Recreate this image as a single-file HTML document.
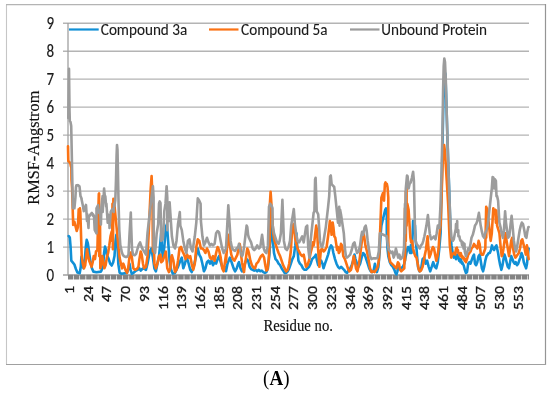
<!DOCTYPE html><html><head><meta charset="utf-8"><style>html,body{margin:0;padding:0;background:#fff;}svg{display:block}</style></head><body>
<svg width="550" height="394" viewBox="0 0 550 394">
<rect x="0" y="0" width="550" height="394" fill="#fff"/>
<path d="M6.5 364 V4.6" fill="none" stroke="#c6c6c6" stroke-width="1.1"/>
<path d="M6 4.6 H545" fill="none" stroke="#b4b4b4" stroke-width="1.3"/>
<path d="M545.5 4.0 V365" fill="none" stroke="#959595" stroke-width="1.2"/>
<path d="M546 364.5 H6" fill="none" stroke="#a0a0a0" stroke-width="1.2"/>
<path d="M63 247.03 H529 M63 219.06 H529 M63 191.09 H529 M63 163.12 H529 M63 135.15 H529 M63 107.18 H529 M63 79.21 H529 M63 51.24 H529 M63 23.27 H529" stroke="#b4b4b4" stroke-width="1.3" fill="none"/>
<path d="M68 23 V275.5 M63 275 H529" stroke="#a0a0a0" stroke-width="1.3" fill="none"/>
<path d="M68 277.1 H529" stroke="#838383" stroke-width="4.8" stroke-dasharray="5.437 0.7" stroke-dashoffset="0.227" fill="none"/>
<g fill="none" stroke-width="2.6" stroke-linejoin="round" stroke-linecap="round">
<polyline stroke="#1190d6" points="68.7,236.0 69.8,237.5 70.6,247.0 71.3,260.7 72.9,262.6 74.4,264.5 75.9,269.0 77.4,272.6 79.7,273.2 80.8,266.8 81.4,256.9 82.5,262.2 83.5,268.3 84.6,262.2 85.8,247.0 86.7,239.8 87.8,243.1 88.9,250.8 90.4,261.4 91.9,268.3 93.4,271.6 96.5,272.2 101.0,271.6 103.0,266.8 104.1,253.0 105.0,246.6 106.1,250.0 107.1,255.3 108.7,259.1 110.2,263.7 111.7,265.5 113.2,262.2 114.5,256.1 115.5,240.9 116.4,234.8 117.4,240.9 118.3,263.7 119.6,272.6 121.6,273.8 124.7,273.2 127.0,272.9 128.5,268.3 129.5,263.7 130.6,269.8 131.8,273.8 133.8,272.6 136.1,270.6 137.6,269.8 139.1,268.0 140.7,270.6 142.2,269.0 143.7,268.3 146.0,269.8 147.5,263.7 149.8,251.5 151.3,248.5 152.9,257.6 154.4,268.3 155.9,271.3 157.4,263.7 159.0,256.1 160.5,240.9 161.2,233.2 162.0,248.5 162.8,257.6 164.3,247.0 165.8,227.1 166.9,224.1 168.1,240.9 169.6,260.7 171.1,269.8 172.7,273.6 175.0,272.9 176.5,269.8 178.0,266.8 180.3,260.7 181.8,257.6 183.3,268.3 184.9,263.7 186.4,257.6 187.9,260.7 190.2,269.8 191.7,272.1 193.2,268.3 194.8,262.2 196.3,254.6 197.8,248.5 199.3,254.6 200.9,257.6 202.4,263.7 203.9,271.3 205.4,268.3 207.0,262.2 208.5,260.7 210.0,263.7 211.5,260.7 213.0,265.2 214.6,262.2 216.1,263.7 217.6,259.1 219.1,256.1 220.7,262.2 222.2,266.8 223.7,268.3 226.0,266.8 226.0,271.3 227.5,263.7 229.8,257.6 231.3,261.4 232.1,263.7 233.6,268.3 235.1,271.3 236.7,268.3 238.2,263.7 239.0,262.2 240.5,268.3 242.0,271.3 243.5,268.3 245.0,263.7 246.6,259.1 248.1,260.7 249.6,266.8 251.1,269.0 252.7,269.8 254.2,270.6 255.7,269.8 257.2,271.3 258.8,269.8 260.3,271.3 261.8,270.6 263.3,272.1 264.9,272.9 266.4,272.1 267.9,268.3 269.4,254.6 270.5,237.8 271.7,214.4 272.9,240.9 274.0,253.0 275.5,259.1 277.0,260.7 278.6,263.7 280.1,265.2 281.6,268.3 283.1,270.6 284.7,272.9 286.2,272.9 287.7,271.3 289.2,268.3 290.8,263.7 292.3,259.1 293.8,256.1 295.3,245.4 296.4,233.2 297.3,247.0 298.4,260.7 299.9,263.7 301.4,265.2 303.0,268.3 304.5,269.8 306.0,269.8 307.5,268.3 309.0,266.8 310.6,263.7 312.1,259.1 313.6,257.6 315.1,256.1 315.9,254.6 317.0,260.7 318.2,265.2 319.7,263.7 321.2,260.7 322.5,263.7 323.5,268.3 325.0,263.7 326.6,259.1 328.1,254.6 329.6,248.5 331.1,245.4 332.2,247.0 333.4,253.0 335.0,259.1 336.5,263.7 338.0,266.8 339.5,268.3 341.0,266.8 342.6,268.3 344.1,269.8 345.6,272.1 347.1,272.9 348.7,269.8 350.2,268.3 351.7,265.2 353.2,260.7 354.5,254.6 355.5,259.1 357.0,263.7 358.6,266.8 360.1,263.7 361.6,257.6 363.1,253.0 364.7,254.6 366.2,259.1 367.7,263.7 369.2,268.3 370.8,271.3 372.3,272.1 373.8,269.8 374.9,263.7 375.8,268.3 376.9,272.1 378.4,266.8 379.9,248.5 380.7,233.2 381.4,225.6 385.2,209.8 386.0,208.3 386.8,209.8 386.8,233.2 387.5,248.5 388.3,256.1 389.8,262.2 391.3,265.2 392.9,266.8 394.4,269.8 395.4,272.9 396.4,274.4 397.4,271.3 398.5,266.8 399.7,268.3 401.2,268.3 402.8,266.8 404.3,263.7 405.8,256.1 407.0,250.0 408.1,247.0 409.2,250.0 410.1,253.0 410.8,245.4 411.6,253.0 412.7,233.2 413.1,221.0 415.0,225.6 415.7,240.9 416.5,248.5 417.2,257.6 418.0,266.8 419.5,271.3 421.0,269.8 422.6,259.1 424.1,257.6 425.6,263.7 427.1,260.7 428.7,266.8 430.2,271.3 431.7,266.8 433.2,262.2 434.8,266.8 436.3,268.3 437.8,262.2 439.3,248.5 440.6,233.0 441.8,180.0 442.8,130.0 443.8,85.0 444.6,72.0 445.4,74.0 446.3,100.0 447.3,135.0 448.3,165.0 449.2,190.0 450.0,215.0 450.8,238.0 451.5,245.4 452.7,253.0 453.8,257.6 454.9,254.6 456.0,259.1 456.1,259.1 457.2,254.6 457.6,257.6 458.3,256.1 459.1,260.7 459.4,259.1 460.6,262.2 460.7,259.1 462.1,263.7 462.2,262.2 463.6,265.2 463.7,265.2 464.8,269.8 464.9,269.8 465.9,272.9 467.0,272.1 468.2,263.7 469.4,262.2 470.5,263.7 472.0,259.1 473.1,256.1 474.0,254.6 475.0,263.7 476.1,265.2 477.3,262.2 478.6,256.1 479.6,254.6 480.7,260.7 481.9,268.3 483.1,271.3 484.2,266.8 485.3,260.7 486.5,256.1 487.7,254.6 488.8,253.0 489.8,253.0 491.0,250.0 492.0,245.4 492.9,248.5 494.1,250.0 495.3,247.0 496.4,245.4 497.1,248.5 498.1,253.0 499.0,259.1 500.2,265.2 501.4,269.8 502.5,265.2 503.5,259.1 504.5,254.6 505.5,257.6 506.6,262.2 507.8,266.8 509.0,268.3 510.1,262.2 511.2,256.1 512.4,259.1 513.6,262.2 514.7,263.7 515.7,262.2 517.0,265.2 518.2,263.7 519.2,260.7 520.3,257.6 521.5,253.0 522.7,256.1 523.8,262.2 524.9,265.2 526.1,268.3 527.0,263.7 527.9,254.6 528.7,248.5"/>
<polyline stroke="#fb7214" points="68.0,146.4 68.3,161.0 68.9,161.5 69.8,162.6 70.3,163.3 71.0,166.8 71.3,164.1 71.5,180.0 72.1,188.5 72.9,215.9 73.2,224.9 74.4,221.8 75.4,225.6 76.7,231.0 77.9,227.1 78.7,209.4 79.0,221.0 79.4,210.6 79.9,208.3 80.3,211.3 81.7,256.1 82.8,263.7 84.0,268.3 85.2,265.2 86.3,256.1 87.0,249.2 88.1,256.1 89.2,260.7 90.4,263.7 91.6,266.8 92.7,262.2 93.7,256.1 95.0,259.1 96.0,251.5 97.4,250.1 98.2,215.6 98.8,193.8 99.1,193.3 99.2,256.1 100.0,215.6 100.3,268.3 101.4,263.7 102.3,256.1 103.3,262.2 104.4,268.3 105.6,265.2 106.8,257.6 108.1,253.0 109.3,245.4 110.5,236.3 111.7,231.7 112.2,240.9 112.5,203.7 112.9,249.2 113.4,198.8 113.9,199.6 114.3,203.7 118.6,248.5 119.6,257.6 120.9,263.7 122.1,268.3 123.3,263.7 124.5,266.8 125.7,270.6 127.0,272.9 128.2,268.3 129.2,259.1 130.2,253.0 131.2,252.3 132.3,260.7 133.4,268.3 134.9,269.8 136.9,269.0 138.4,266.8 139.4,259.1 140.7,251.5 141.7,254.6 143.0,263.7 144.0,268.3 146.0,266.8 147.5,256.1 148.7,233.2 149.8,208.3 150.7,188.5 151.6,176.0 152.4,196.1 152.9,251.5 153.0,215.9 154.4,263.7 155.9,268.3 157.4,263.7 159.0,256.1 160.5,254.6 161.2,262.2 162.8,260.7 164.3,256.1 165.8,251.5 167.3,268.3 168.9,272.1 170.4,268.3 171.1,257.6 171.9,255.3 173.4,260.7 175.0,272.1 176.5,269.8 178.0,260.7 179.5,248.5 181.0,247.0 182.6,251.5 184.1,254.6 185.6,259.1 187.1,254.6 188.7,257.6 190.2,256.1 191.7,263.7 193.2,269.8 194.8,263.7 196.3,247.0 197.8,239.3 199.3,240.9 200.9,248.5 202.4,248.5 203.9,250.0 205.4,253.0 207.0,248.5 208.5,251.5 210.0,257.6 211.5,259.1 213.0,256.1 214.6,260.7 216.1,253.0 217.6,247.0 219.1,250.0 220.7,257.6 222.2,268.3 223.7,271.3 226.0,254.6 226.0,262.2 227.5,240.9 228.3,234.8 229.0,237.8 229.8,245.4 231.3,254.6 232.9,259.1 234.4,260.7 235.9,257.6 237.4,254.6 238.5,248.5 239.7,243.9 240.5,248.5 241.2,256.1 242.0,262.2 242.8,266.8 244.0,272.1 245.0,263.7 245.8,259.1 246.6,253.0 247.3,248.5 248.1,250.0 248.9,253.0 250.4,260.7 251.9,265.2 253.4,267.5 255.0,268.3 256.5,263.7 258.0,262.2 259.5,259.1 261.0,256.1 262.6,254.6 264.1,257.6 265.3,265.2 266.4,270.6 267.4,269.8 268.7,259.1 269.7,240.9 269.9,203.7 270.6,191.8 271.4,203.7 273.2,233.2 274.5,240.9 275.5,243.9 277.0,248.5 278.6,253.0 280.1,256.1 281.6,260.7 283.1,265.2 284.7,268.3 286.2,271.3 287.7,269.8 289.2,263.7 290.8,251.5 291.8,234.8 292.7,227.1 293.5,224.1 294.3,230.2 295.3,239.3 296.4,243.9 297.6,248.5 299.1,251.5 300.7,254.6 302.2,256.1 303.7,254.6 306.0,266.8 307.5,265.2 309.0,260.7 310.6,253.0 311.8,248.5 312.9,242.4 313.6,245.4 314.4,240.9 315.1,234.8 316.2,225.6 317.0,230.2 317.9,245.4 318.6,256.1 319.4,266.8 320.2,257.6 320.9,250.0 322.0,248.5 323.5,251.5 325.0,250.0 326.6,247.0 328.1,236.3 329.2,227.1 329.9,221.0 330.7,225.6 331.6,234.8 332.7,222.6 333.4,227.1 334.3,236.3 335.3,237.8 336.2,243.9 337.1,250.0 338.0,247.0 338.8,253.0 339.8,251.5 341.0,243.9 342.1,245.4 343.3,256.1 344.9,259.1 346.4,263.7 347.9,268.3 349.4,271.3 351.0,269.8 352.5,263.7 353.7,256.1 354.8,260.7 356.0,268.3 357.5,271.3 359.0,263.7 360.6,251.5 362.1,239.3 363.1,232.5 364.2,236.3 365.4,245.4 367.0,251.5 368.5,259.1 370.0,268.3 371.5,272.1 373.0,271.3 374.6,272.1 376.1,269.8 377.6,266.8 378.8,260.7 379.8,240.9 381.4,197.6 383.0,193.0 384.0,200.7 384.9,183.9 385.5,182.4 386.0,183.9 386.8,183.9 387.5,187.0 388.3,197.6 388.3,240.9 389.0,256.1 390.3,262.2 391.8,263.7 393.3,265.2 394.8,266.8 396.4,268.3 397.9,262.2 399.0,263.7 400.0,269.8 401.2,271.3 402.8,269.8 404.3,268.3 405.0,208.3 405.0,260.7 405.8,191.5 405.8,240.9 406.6,185.4 406.6,225.6 407.3,203.7 408.6,209.8 409.6,225.6 410.4,237.8 411.1,242.4 412.2,240.9 413.1,248.5 414.2,253.0 415.3,256.1 416.5,257.6 417.7,263.7 418.8,269.8 419.8,271.3 421.0,270.6 422.6,266.8 423.8,260.7 424.9,254.6 425.9,250.0 426.8,242.4 427.6,236.3 428.4,248.5 429.4,257.6 430.5,254.6 431.7,250.0 432.9,247.0 434.0,248.5 435.1,254.6 436.3,260.7 437.5,256.1 438.6,248.5 439.6,233.2 440.6,225.0 441.6,195.0 442.6,165.0 443.5,148.0 444.1,145.0 444.8,150.0 445.8,165.0 447.0,185.0 448.2,205.0 449.0,225.0 449.8,245.0 451.2,257.6 452.3,254.6 453.8,253.0 455.3,254.6 456.0,248.5 456.9,247.7 457.2,250.0 457.9,250.0 458.3,253.0 459.1,253.0 459.4,254.6 460.6,256.1 460.7,253.0 462.1,257.6 462.2,256.1 463.6,259.1 463.7,257.6 464.8,260.7 465.2,259.1 465.9,262.2 467.0,259.1 468.2,254.6 469.4,253.0 470.5,251.5 471.5,248.5 472.8,247.0 474.0,243.9 475.0,245.4 476.1,247.0 477.3,248.5 478.6,240.9 479.6,243.9 480.7,253.0 481.9,254.6 483.1,254.6 484.2,251.5 485.3,248.5 486.2,206.8 486.2,237.8 487.2,208.3 489.8,233.2 490.7,240.9 491.8,233.2 493.3,208.3 494.1,212.9 495.3,209.8 495.9,222.6 496.4,210.6 497.1,225.6 499.4,233.2 500.5,245.4 501.7,256.1 502.5,254.6 503.5,248.5 504.5,240.9 505.5,233.2 506.6,240.9 507.8,248.5 509.0,256.1 510.1,248.5 511.2,240.9 512.1,237.8 513.1,248.5 514.2,254.6 515.4,257.6 516.6,256.1 517.7,254.6 518.8,253.0 520.0,248.5 521.2,240.9 522.3,239.3 523.4,243.9 524.6,248.5 525.8,254.6 526.9,245.4 527.9,253.0 528.7,259.1"/>
<polyline stroke="#9c9c9c" points="68.3,118.0 69.0,68.7 69.5,110.0 69.8,121.0 70.5,122.0 71.2,126.0 71.7,150.0 72.1,170.0 72.4,185.0 72.9,208.3 74.4,208.3 75.4,197.6 76.0,187.1 76.4,185.4 77.8,185.3 77.9,185.1 79.4,186.2 79.6,187.1 80.5,196.1 81.3,197.8 81.5,199.1 82.8,205.2 83.8,211.3 84.0,206.7 84.9,206.8 85.8,205.8 86.0,204.9 87.0,220.9 87.3,214.4 88.5,228.0 88.9,216.7 89.9,215.6 90.4,214.4 91.1,213.8 91.9,212.9 92.9,215.6 93.1,214.4 94.0,215.9 94.7,229.8 96.5,233.4 96.5,208.3 98.0,205.2 98.2,206.7 98.9,212.9 99.1,212.0 100.1,210.6 100.9,224.5 101.4,206.8 102.6,196.1 102.7,212.0 104.1,188.5 104.1,188.9 105.0,197.8 105.3,196.1 106.2,206.7 106.4,203.7 107.7,222.7 107.9,214.4 109.4,216.7 109.5,228.0 110.7,212.0 111.0,211.3 112.5,209.0 112.5,210.2 113.7,212.0 114.0,203.7 114.5,206.0 115.3,200.0 116.0,180.0 116.6,155.0 117.0,145.0 117.5,150.0 118.0,175.0 118.6,205.0 119.3,230.0 120.3,245.0 121.4,250.1 121.6,251.5 122.7,254.6 123.9,256.1 125.4,256.9 127.0,256.9 128.5,254.6 129.4,236.3 130.8,212.6 131.2,227.1 132.0,248.5 133.0,254.6 134.6,255.3 136.1,253.8 137.6,248.5 138.8,244.7 140.1,242.4 141.1,245.4 142.2,248.5 143.7,250.8 146.0,254.6 147.5,233.2 151.3,199.1 152.9,186.2 153.6,197.6 153.6,247.0 155.1,253.0 156.7,233.2 158.2,224.1 159.0,203.7 159.7,201.4 160.5,203.0 161.2,240.9 162.8,239.3 163.5,230.2 164.3,211.3 165.5,203.7 166.6,186.2 167.3,197.6 167.3,230.2 168.1,202.2 168.9,221.0 169.6,202.2 171.9,236.3 173.4,245.4 175.0,248.5 176.5,240.9 178.0,224.1 179.8,212.1 180.3,225.6 181.8,230.2 183.3,240.9 184.9,248.5 186.4,253.0 187.9,240.9 189.4,239.3 191.0,248.5 192.5,251.5 194.8,236.3 196.3,222.6 197.8,198.4 199.3,200.7 200.6,203.7 200.9,221.0 202.4,236.3 203.9,245.4 205.4,242.4 207.0,237.8 208.5,242.4 210.0,245.4 211.5,243.9 213.0,245.4 214.6,243.9 216.1,233.2 217.6,231.0 219.1,232.5 220.7,240.9 222.2,248.5 223.7,253.0 226.0,248.5 226.0,248.5 226.8,233.2 228.3,205.2 229.8,227.1 230.6,240.9 232.1,248.5 233.6,250.0 235.1,250.8 236.7,248.5 238.2,247.0 239.0,243.9 239.7,247.0 240.5,251.5 241.2,254.6 242.0,256.1 242.8,254.6 244.3,245.4 245.5,234.8 246.6,225.6 247.3,227.1 248.1,234.8 248.9,237.8 249.6,239.3 251.1,242.4 252.7,248.5 254.2,250.0 255.7,248.5 257.2,245.4 258.8,248.5 260.3,247.0 261.4,239.3 262.1,234.8 262.9,240.9 263.8,248.5 264.9,251.5 266.4,253.0 267.9,245.4 269.0,206.8 270.2,203.7 271.4,205.2 272.5,208.3 272.5,224.1 274.0,233.2 275.5,237.8 277.0,242.4 278.6,243.9 279.6,240.9 280.9,233.2 282.4,199.9 283.9,240.9 285.4,248.5 287.0,250.0 288.5,247.0 290.0,240.9 291.2,225.6 293.8,209.0 294.9,224.1 296.1,233.2 297.6,240.9 299.1,242.4 300.7,239.3 302.2,236.3 303.7,242.4 306.0,227.1 307.2,225.6 308.3,248.5 309.4,257.6 310.6,240.9 313.6,212.9 314.4,211.3 315.1,179.3 315.6,177.8 316.2,196.1 316.7,211.3 318.2,214.4 319.0,225.6 320.0,240.9 320.9,245.4 322.0,247.0 323.1,243.9 324.3,236.3 325.8,227.1 328.1,206.8 329.2,196.1 330.1,176.3 330.8,175.5 331.6,183.9 332.7,185.4 334.2,187.0 335.3,196.1 338.0,222.6 339.2,206.8 339.5,225.6 340.1,209.8 341.0,214.4 343.8,233.2 344.9,248.5 345.9,256.1 347.1,257.6 348.7,256.1 350.2,254.6 351.7,250.0 353.2,243.9 354.5,242.4 355.5,247.0 357.0,253.0 358.6,251.5 360.1,245.4 361.2,236.3 362.1,231.7 363.1,234.8 364.7,227.1 365.7,225.6 366.6,230.2 367.7,240.9 368.8,248.5 370.0,256.1 371.5,259.1 373.0,258.4 374.6,258.4 376.1,258.4 377.6,257.6 378.8,251.5 379.9,233.2 386.8,236.3 387.8,245.4 389.0,250.0 390.3,251.5 391.3,253.0 392.4,251.5 393.6,257.6 394.8,254.6 395.9,248.5 397.0,253.0 398.2,257.6 399.4,254.6 400.5,259.1 401.5,258.4 402.8,256.1 404.0,248.5 405.0,203.7 405.0,233.2 405.8,188.5 407.0,175.5 407.6,176.3 408.6,188.5 409.6,183.9 410.7,182.4 411.9,177.8 413.1,171.7 413.9,180.9 415.0,230.2 415.7,240.9 416.5,243.9 417.7,245.4 418.8,247.0 419.8,248.5 421.0,245.4 422.3,243.9 423.3,240.9 424.4,236.3 425.3,231.7 426.4,225.6 427.1,221.0 427.9,215.1 428.7,222.6 429.7,233.2 431.0,239.3 432.5,237.8 434.0,236.3 435.5,239.3 436.7,233.2 437.8,225.6 439.3,228.0 440.5,205.0 441.6,170.0 442.5,130.0 443.1,90.0 443.7,66.0 444.3,58.5 445.0,62.0 445.8,80.0 446.6,110.0 447.4,135.0 448.3,165.0 449.3,195.0 450.1,215.0 450.7,228.0 451.5,237.8 452.7,240.9 453.8,239.3 454.9,233.2 455.8,228.7 456.0,224.1 456.6,227.1 457.2,221.0 457.3,231.7 458.3,230.2 458.4,236.3 459.4,236.3 459.9,239.3 460.6,240.9 461.4,240.9 462.1,245.4 463.0,242.4 463.6,248.5 464.5,243.9 464.8,251.5 465.9,256.1 467.0,253.0 468.2,248.5 469.4,250.0 470.5,243.9 471.5,237.8 472.8,234.8 474.0,230.2 475.0,225.6 476.1,224.1 477.3,221.0 478.9,212.9 480.7,225.6 481.9,231.7 483.1,236.3 484.2,237.8 485.3,233.2 486.5,230.2 487.7,225.6 491.8,188.5 492.6,177.0 493.5,177.8 494.1,188.5 495.0,179.3 495.9,180.9 496.5,196.1 497.1,196.1 498.1,200.7 499.4,222.6 500.5,227.1 501.7,233.2 502.9,237.8 504.0,230.2 505.1,211.3 506.0,222.6 507.0,230.2 508.1,237.8 509.3,236.3 510.6,224.1 511.6,215.9 512.7,227.1 513.9,240.9 515.1,248.5 516.2,251.5 517.3,245.4 518.5,237.8 519.7,230.2 520.8,225.6 521.8,222.6 523.0,224.1 524.3,230.2 525.3,236.3 526.4,237.8 527.3,231.7 528.4,227.1 528.7,227.1"/>
</g>
<g style="font-family:Carlito,'Liberation Sans',sans-serif;font-size:15px" fill="#1a1a1a" stroke="#1a1a1a" stroke-width="0.12" text-anchor="end">
<text transform="translate(54 280.57) scale(1 1.17)" textLength="7.61" lengthAdjust="spacingAndGlyphs">0</text>
<text transform="translate(54 252.60) scale(1 1.17)" textLength="7.61" lengthAdjust="spacingAndGlyphs">1</text>
<text transform="translate(54 224.63) scale(1 1.17)" textLength="7.61" lengthAdjust="spacingAndGlyphs">2</text>
<text transform="translate(54 196.66) scale(1 1.17)" textLength="7.61" lengthAdjust="spacingAndGlyphs">3</text>
<text transform="translate(54 168.69) scale(1 1.17)" textLength="7.61" lengthAdjust="spacingAndGlyphs">4</text>
<text transform="translate(54 140.72) scale(1 1.17)" textLength="7.61" lengthAdjust="spacingAndGlyphs">5</text>
<text transform="translate(54 112.75) scale(1 1.17)" textLength="7.61" lengthAdjust="spacingAndGlyphs">6</text>
<text transform="translate(54 84.78) scale(1 1.17)" textLength="7.61" lengthAdjust="spacingAndGlyphs">7</text>
<text transform="translate(54 56.81) scale(1 1.17)" textLength="7.61" lengthAdjust="spacingAndGlyphs">8</text>
<text transform="translate(54 28.84) scale(1 1.17)" textLength="7.61" lengthAdjust="spacingAndGlyphs">9</text>
</g>
<g style="font-family:Carlito,'Liberation Sans',sans-serif;font-size:15px" fill="#1a1a1a" stroke="#1a1a1a" stroke-width="0.3" text-anchor="end">
<text transform="translate(74.00 286) rotate(-90) scale(1.05 1)" textLength="7.61" lengthAdjust="spacingAndGlyphs">1</text>
<text transform="translate(92.70 286) rotate(-90) scale(1.05 1)" textLength="15.21" lengthAdjust="spacingAndGlyphs">24</text>
<text transform="translate(111.40 286) rotate(-90) scale(1.05 1)" textLength="15.21" lengthAdjust="spacingAndGlyphs">47</text>
<text transform="translate(130.10 286) rotate(-90) scale(1.05 1)" textLength="15.21" lengthAdjust="spacingAndGlyphs">70</text>
<text transform="translate(148.80 286) rotate(-90) scale(1.05 1)" textLength="15.21" lengthAdjust="spacingAndGlyphs">93</text>
<text transform="translate(167.50 286) rotate(-90) scale(1.05 1)" textLength="22.82" lengthAdjust="spacingAndGlyphs">116</text>
<text transform="translate(186.20 286) rotate(-90) scale(1.05 1)" textLength="22.82" lengthAdjust="spacingAndGlyphs">139</text>
<text transform="translate(204.90 286) rotate(-90) scale(1.05 1)" textLength="22.82" lengthAdjust="spacingAndGlyphs">162</text>
<text transform="translate(223.60 286) rotate(-90) scale(1.05 1)" textLength="22.82" lengthAdjust="spacingAndGlyphs">185</text>
<text transform="translate(242.30 286) rotate(-90) scale(1.05 1)" textLength="22.82" lengthAdjust="spacingAndGlyphs">208</text>
<text transform="translate(261.00 286) rotate(-90) scale(1.05 1)" textLength="22.82" lengthAdjust="spacingAndGlyphs">231</text>
<text transform="translate(279.70 286) rotate(-90) scale(1.05 1)" textLength="22.82" lengthAdjust="spacingAndGlyphs">254</text>
<text transform="translate(298.40 286) rotate(-90) scale(1.05 1)" textLength="22.82" lengthAdjust="spacingAndGlyphs">277</text>
<text transform="translate(317.10 286) rotate(-90) scale(1.05 1)" textLength="22.82" lengthAdjust="spacingAndGlyphs">300</text>
<text transform="translate(335.80 286) rotate(-90) scale(1.05 1)" textLength="22.82" lengthAdjust="spacingAndGlyphs">323</text>
<text transform="translate(354.50 286) rotate(-90) scale(1.05 1)" textLength="22.82" lengthAdjust="spacingAndGlyphs">346</text>
<text transform="translate(373.20 286) rotate(-90) scale(1.05 1)" textLength="22.82" lengthAdjust="spacingAndGlyphs">369</text>
<text transform="translate(391.90 286) rotate(-90) scale(1.05 1)" textLength="22.82" lengthAdjust="spacingAndGlyphs">392</text>
<text transform="translate(410.60 286) rotate(-90) scale(1.05 1)" textLength="22.82" lengthAdjust="spacingAndGlyphs">415</text>
<text transform="translate(429.30 286) rotate(-90) scale(1.05 1)" textLength="22.82" lengthAdjust="spacingAndGlyphs">438</text>
<text transform="translate(448.00 286) rotate(-90) scale(1.05 1)" textLength="22.82" lengthAdjust="spacingAndGlyphs">461</text>
<text transform="translate(466.70 286) rotate(-90) scale(1.05 1)" textLength="22.82" lengthAdjust="spacingAndGlyphs">484</text>
<text transform="translate(485.40 286) rotate(-90) scale(1.05 1)" textLength="22.82" lengthAdjust="spacingAndGlyphs">507</text>
<text transform="translate(504.10 286) rotate(-90) scale(1.05 1)" textLength="22.82" lengthAdjust="spacingAndGlyphs">530</text>
<text transform="translate(522.80 286) rotate(-90) scale(1.05 1)" textLength="22.82" lengthAdjust="spacingAndGlyphs">553</text>
</g>
<g stroke-width="2.2">
<path d="M69 29.5 H98.7" stroke="#1190d6"/>
<path d="M209 29.5 H238.5" stroke="#fb7214"/>
<path d="M350 29.5 H379.5" stroke="#9c9c9c"/>
</g>
<g style="font-family:Carlito,'Liberation Sans',sans-serif;font-size:15px" fill="#1a1a1a" stroke="#1a1a1a" stroke-width="0.1">
<text transform="translate(100.8 35) scale(1.01 1.15)" textLength="85.52" lengthAdjust="spacingAndGlyphs">Compound 3a</text>
<text transform="translate(241.1 35) scale(1.01 1.15)" textLength="85.52" lengthAdjust="spacingAndGlyphs">Compound 5a</text>
<text transform="translate(381.3 35) scale(1.01 1.15)" textLength="104.64" lengthAdjust="spacingAndGlyphs">Unbound Protein</text>
</g>
<text style="font-family:'Liberation Serif',serif;font-size:16px" text-anchor="middle" transform="translate(39.3 147.7) rotate(-90)" textLength="114" lengthAdjust="spacingAndGlyphs" fill="#111" stroke="#111" stroke-width="0.15">RMSF-Angstrom</text>
<text style="font-family:'Liberation Serif',serif;font-size:16.5px" x="298.2" y="330.8" text-anchor="middle" textLength="69.6" lengthAdjust="spacingAndGlyphs" fill="#111" stroke="#111" stroke-width="0.15">Residue no.</text>
<text style="font-family:'Liberation Serif',serif;font-size:19px" transform="translate(276.3 385.2) scale(1 1.1)" text-anchor="middle">(<tspan font-weight="bold">A</tspan>)</text>
</svg></body></html>
